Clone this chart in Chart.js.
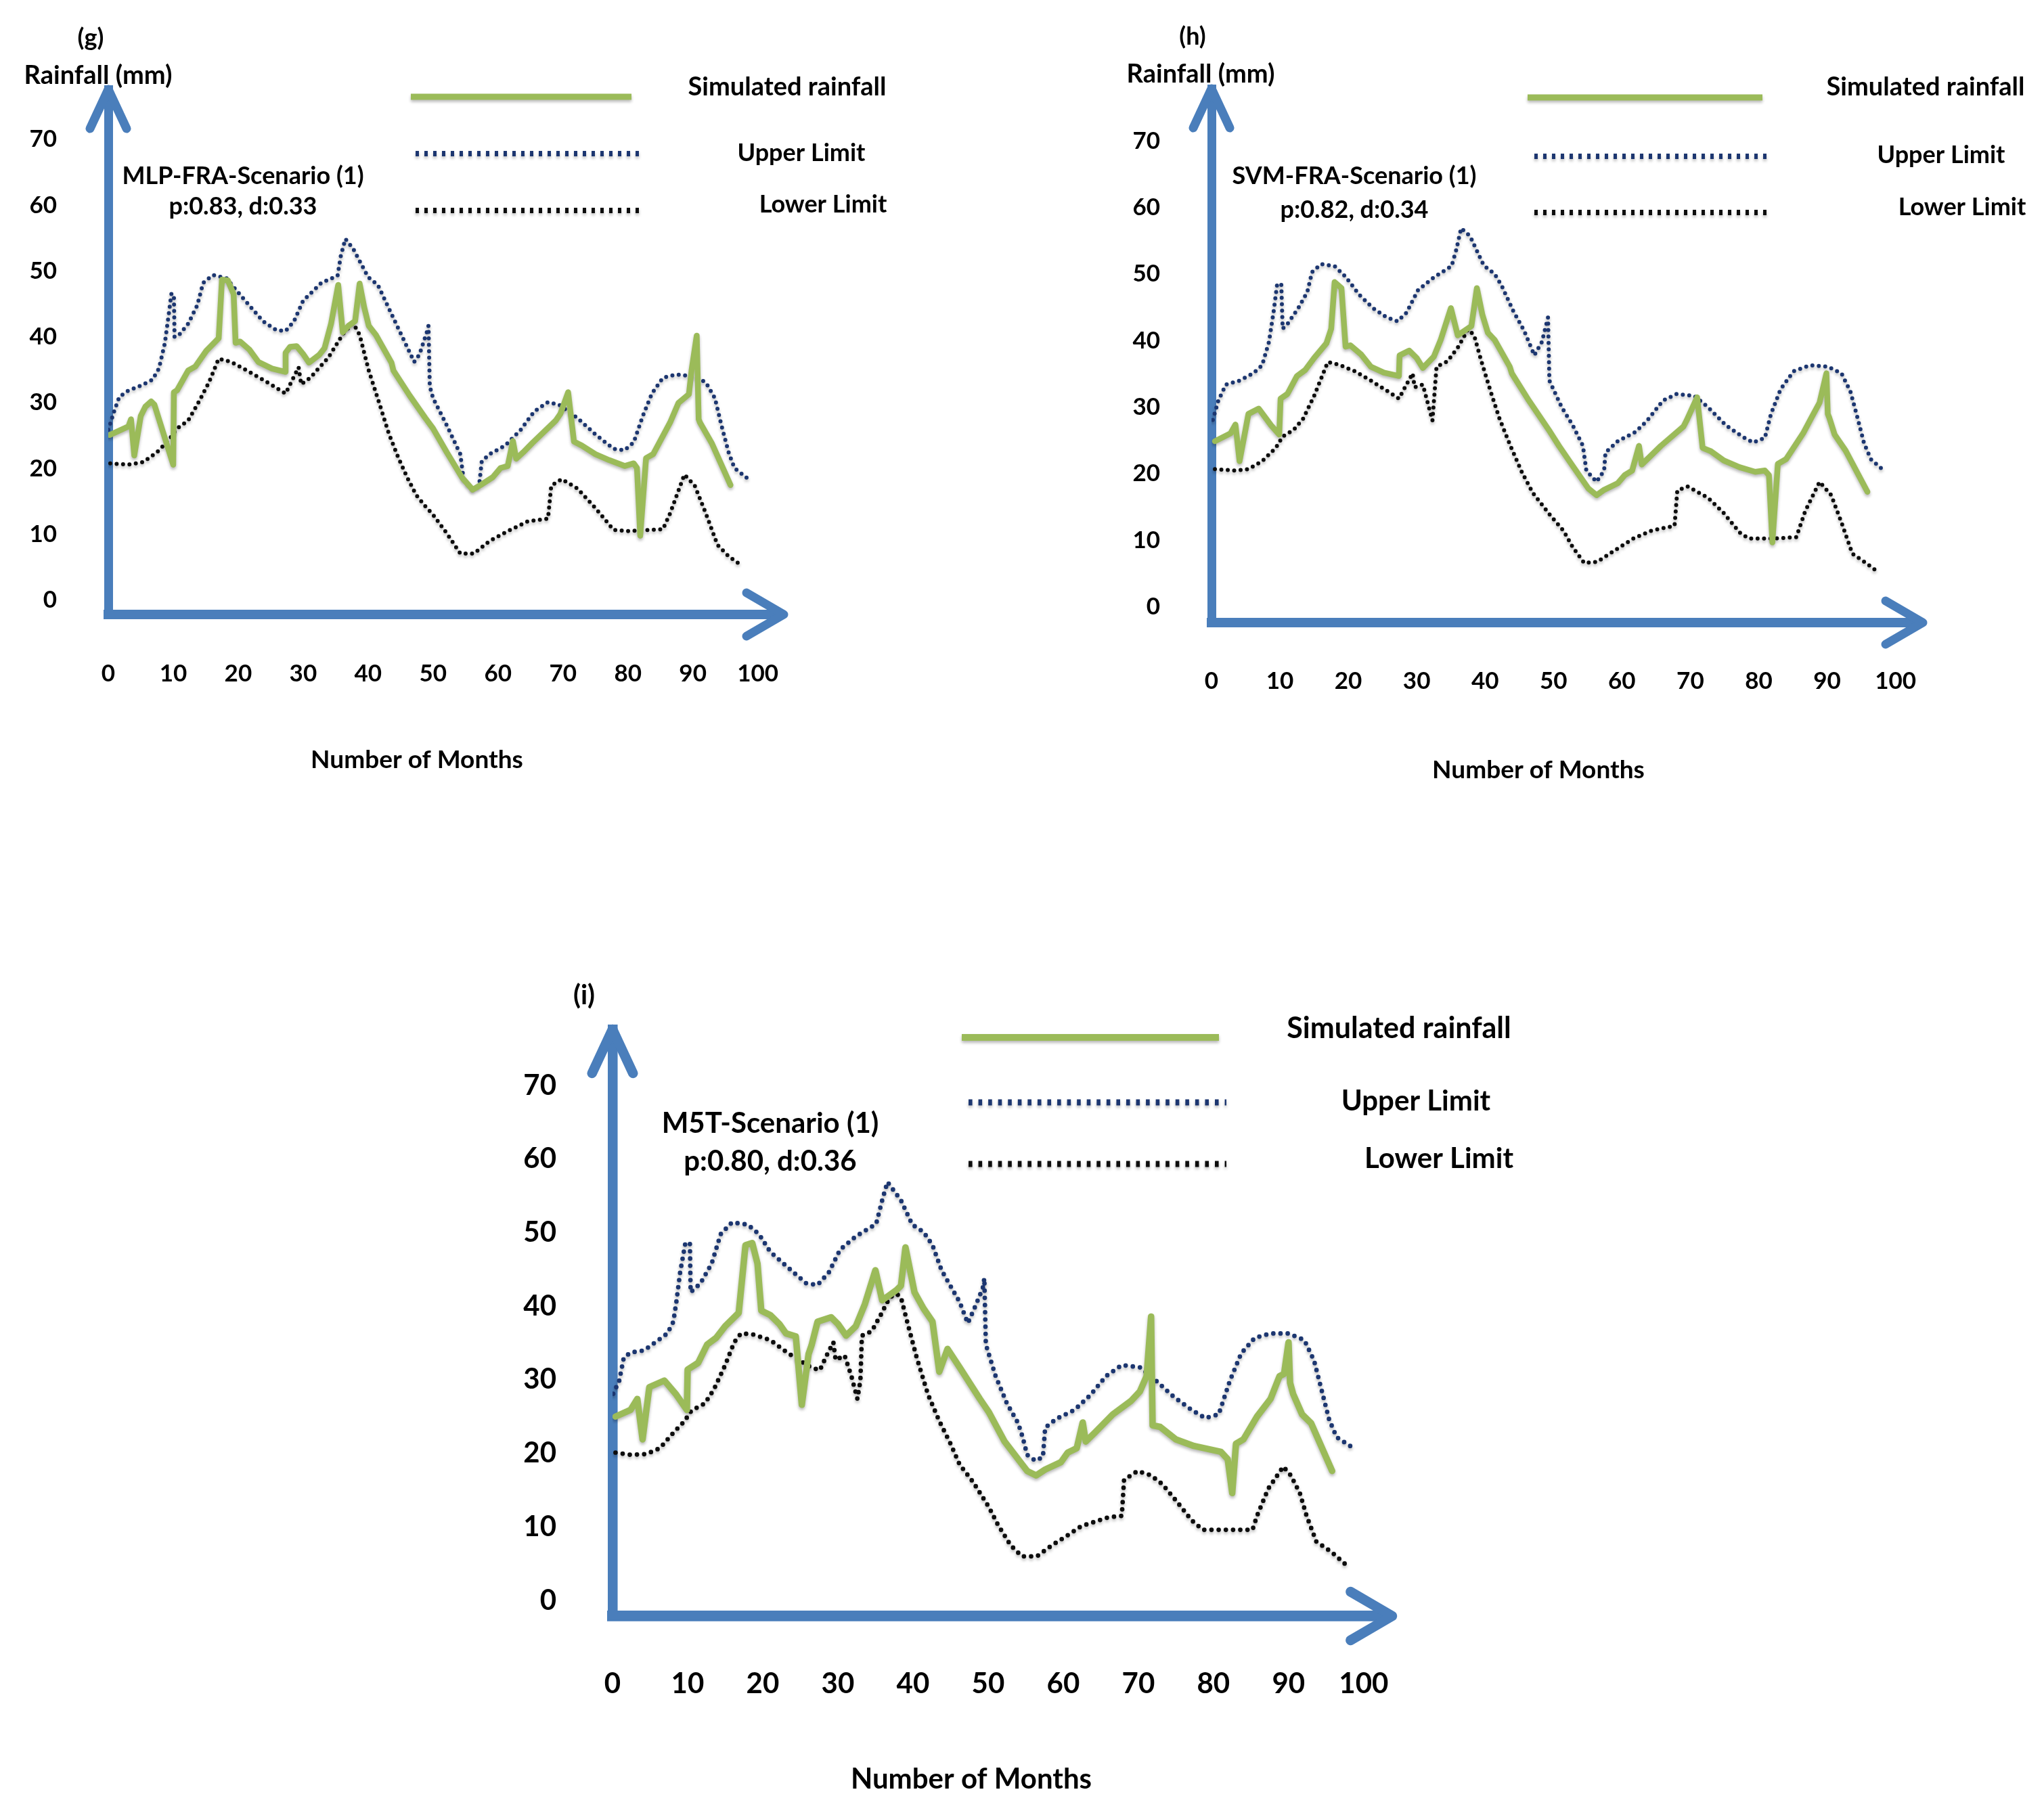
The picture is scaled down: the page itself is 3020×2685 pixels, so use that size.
<!DOCTYPE html>
<html>
<head>
<meta charset="utf-8">
<title>Simulated rainfall with upper and lower limits</title>
<script src="https://cdn.jsdelivr.net/npm/chart.js@4.4.1/dist/chart.umd.min.js"></script>
<style>
  html, body { margin: 0; padding: 0; background: #fff; }
  #wrap { position: relative; width: 3020px; height: 2685px; }
  #wrap canvas { position: absolute; left: 0; top: 0; }
</style>
</head>
<body>
<div id="wrap">
  <canvas id="chartG" width="3020" height="2685"></canvas>
  <canvas id="chartH" width="3020" height="2685"></canvas>
  <canvas id="chartI" width="3020" height="2685"></canvas>
</div>
<script>
// tick labels and names
const xTicks = [0, 10, 20, 30, 40, 50, 60, 70, 80, 90, 100];
const yTicks = [0, 10, 20, 30, 40, 50, 60, 70];
const seriesNames = ['Simulated rainfall', 'Upper Limit', 'Lower Limit'];
const yTitle = 'Rainfall (mm)';
const xTitle = 'Number of Months';

// (g) MLP-FRA  [month, rainfall mm]
const gSimulated = [[0.2,25.1],[3.1,26.4],[3.5,27.5],[4.0,22.0],[5.0,28.0],[5.7,29.4],[6.6,30.2],[7.1,29.7],[10.0,20.6],[10.1,31.6],[10.6,31.9],[12.3,34.9],[13.4,35.5],[15.1,37.9],[17.0,39.8],[17.5,48.7],[18.4,48.6],[19.3,46.5],[19.6,39.1],[20.3,39.3],[21.7,38.1],[23.1,36.2],[25.2,35.2],[27.2,34.7],[27.3,37.6],[28.0,38.5],[29.0,38.6],[30.0,37.4],[30.9,36.1],[32.5,37.3],[33.3,38.3],[34.3,42.0],[35.4,47.9],[36.1,40.7],[37.0,41.7],[38.0,42.4],[38.7,48.1],[39.4,44.5],[40.1,41.7],[41.2,40.3],[43.6,36.1],[43.9,34.9],[46.4,31.1],[48.8,27.7],[50.0,26.1],[52.1,22.5],[54.5,18.6],[56.1,16.8],[57.3,17.5],[59.2,18.7],[60.4,20.1],[61.5,20.4],[62.3,24.2],[62.8,21.5],[63.9,22.5],[65.3,23.9],[68.9,27.3],[69.6,28.3],[70.8,31.6],[71.7,24.1],[72.9,23.5],[75.0,22.2],[77.1,21.3],[79.5,20.4],[80.9,20.8],[81.4,20.1],[81.9,9.8],[82.8,21.6],[83.9,22.2],[86.5,27.0],[87.8,30.0],[89.4,31.3],[89.8,34.9],[90.6,40.2],[90.9,27.5],[91.1,27.0],[92.9,23.9],[95.8,17.5]];
const gUpper = [[0.0,25.9],[0.9,28.7],[1.7,30.9],[3.0,31.8],[5.0,32.6],[6.8,33.5],[7.8,35.2],[8.7,39.0],[9.4,44.1],[9.7,46.5],[10.1,46.5],[10.2,40.0],[10.9,40.3],[12.3,42.0],[13.7,44.8],[14.6,48.2],[16.1,49.4],[18.2,48.9],[19.6,47.2],[21.7,44.8],[23.8,42.4],[25.9,41.0],[27.3,40.9],[28.6,42.4],[30.0,45.5],[32.8,48.2],[35.3,49.3],[35.8,52.3],[36.5,54.9],[37.7,53.4],[40.0,49.1],[41.5,47.9],[42.5,45.8],[44.6,41.4],[47.1,36.2],[47.9,37.3],[49.1,40.9],[49.3,41.7],[49.5,32.5],[50.0,30.7],[52.1,26.6],[54.2,22.2],[54.7,18.4],[56.1,16.8],[57.1,17.5],[57.5,21.1],[58.7,22.2],[61.1,23.5],[63.5,25.9],[65.6,28.7],[67.7,30.1],[69.4,29.7],[72.2,27.7],[75.0,25.2],[77.8,23.0],[79.5,22.8],[80.9,24.0],[82.3,28.0],[83.7,31.4],[85.4,33.8],[87.5,34.3],[90.3,34.0],[92.0,33.1],[93.4,30.7],[94.4,26.6],[95.5,22.5],[96.4,20.1],[98.3,18.6]];
const gLower = [[0.3,20.8],[3.0,20.6],[5.4,21.0],[7.5,22.5],[9.2,24.2],[10.6,26.1],[12.3,27.3],[13.7,29.7],[15.5,33.1],[17.0,36.7],[18.9,36.2],[21.7,34.7],[24.5,33.1],[27.3,31.4],[29.3,35.4],[29.7,32.8],[31.1,33.8],[33.9,36.9],[36.3,40.7],[37.7,42.1],[38.7,40.3],[40.1,34.9],[41.8,29.7],[43.2,25.3],[44.6,21.8],[46.0,18.7],[47.4,16.0],[48.8,14.3],[50.0,13.0],[52.1,10.2],[54.2,7.1],[56.3,7.1],[58.7,9.0],[61.5,10.5],[64.6,12.0],[67.7,12.4],[68.2,17.4],[69.8,18.4],[72.2,17.0],[75.0,14.0],[77.8,10.7],[79.9,10.5],[85.4,10.8],[86.5,13.2],[88.7,19.1],[90.3,17.4],[92.0,13.2],[93.8,8.4],[95.5,6.7],[97.2,5.5]];

// (h) SVM-FRA
const hSimulated = [[0.5,24.9],[2.8,26.1],[3.5,27.4],[4.1,21.9],[5.4,29.0],[6.9,29.8],[8.7,27.3],[9.9,25.9],[10.1,31.3],[11.1,32.0],[12.5,34.7],[13.7,35.6],[15.0,37.4],[16.8,39.6],[17.5,41.8],[18.0,48.8],[19.0,47.9],[19.6,39.1],[20.3,39.3],[21.9,37.9],[23.3,36.1],[25.2,35.2],[27.4,34.7],[27.5,37.8],[28.9,38.5],[30.0,37.4],[30.9,35.9],[32.5,37.6],[33.5,40.1],[35.0,44.9],[36.0,40.8],[38.0,42.2],[38.8,47.9],[39.6,43.9],[40.4,41.2],[41.4,40.1],[43.6,36.1],[43.9,35.1],[46.4,31.0],[49.5,26.3],[50.8,24.2],[52.8,21.2],[55.1,17.8],[56.3,16.8],[57.4,17.6],[59.4,18.6],[60.4,19.8],[61.5,20.5],[62.5,24.2],[62.9,21.4],[64.0,22.5],[65.7,24.2],[69.0,27.1],[69.5,28.1],[71.0,31.5],[71.8,23.9],[73.0,23.4],[74.9,22.0],[77.2,21.0],[79.5,20.3],[80.9,20.5],[81.5,19.8],[82.0,9.7],[82.8,21.5],[84.0,22.2],[86.5,26.1],[87.8,28.6],[88.9,30.7],[89.9,35.1],[90.1,29.0],[90.3,28.5],[91.1,25.9],[92.7,23.5],[95.9,17.3]];
const hUpper = [[0.2,28.1],[1.0,31.0],[2.1,33.4],[4.1,34.0],[6.1,35.1],[7.4,36.3],[8.4,39.8],[9.1,44.5],[9.6,48.5],[10.2,48.5],[10.4,41.8],[11.1,42.5],[12.7,44.9],[14.0,47.3],[14.7,50.3],[16.0,51.5],[18.0,51.2],[19.6,49.6],[21.6,46.9],[23.6,44.9],[25.6,43.5],[27.2,42.9],[28.5,44.2],[30.2,47.6],[32.5,49.5],[35.1,51.2],[35.8,53.7],[36.5,56.9],[37.8,55.7],[39.8,51.3],[41.4,50.0],[42.4,48.3],[44.1,44.5],[45.7,41.5],[47.2,37.8],[48.3,39.8],[49.2,43.5],[49.4,34.0],[51.2,30.0],[52.8,27.3],[54.3,24.2],[54.8,20.5],[56.3,18.8],[57.4,20.5],[57.6,23.2],[59.4,24.9],[62.0,26.3],[63.7,28.0],[66.0,31.0],[68.0,32.0],[70.6,31.7],[72.6,30.0],[75.2,27.3],[77.6,25.6],[79.2,24.7],[80.9,25.4],[81.8,29.0],[83.2,32.7],[85.1,35.4],[87.5,36.3],[90.1,36.1],[92.1,35.1],[93.4,32.4],[94.4,28.6],[95.4,24.6],[96.4,22.2],[98.3,20.5]];
const hLower = [[0.5,20.7],[3.5,20.5],[5.4,20.7],[7.4,21.9],[9.4,23.9],[10.4,25.6],[12.0,26.6],[13.4,28.3],[15.0,31.7],[17.0,36.8],[18.6,36.4],[21.0,35.4],[23.3,34.0],[25.6,32.5],[27.4,31.3],[28.5,33.4],[29.4,35.1],[29.7,33.0],[30.9,33.4],[32.3,28.0],[32.9,36.1],[34.5,36.9],[36.1,39.1],[37.5,41.7],[38.4,40.8],[39.4,37.1],[40.8,32.4],[42.1,28.3],[43.7,24.2],[45.4,20.2],[47.0,17.1],[49.5,13.8],[51.5,11.4],[52.8,9.0],[54.5,6.6],[56.4,6.8],[59.1,8.6],[61.7,10.3],[64.4,11.5],[67.7,12.2],[68.1,17.5],[69.6,18.1],[72.6,16.4],[74.9,14.1],[77.2,11.2],[78.5,10.3],[82.5,10.3],[85.5,10.5],[86.8,14.4],[88.9,18.8],[90.6,16.8],[92.1,12.7],[93.7,8.0],[95.7,6.6],[97.0,5.6]];

// (i) M5T
const iSimulated = [[0.4,25.0],[2.4,25.9],[3.3,27.4],[4.0,21.9],[4.9,29.0],[6.9,29.9],[8.4,28.1],[9.9,25.9],[10.0,31.4],[11.4,32.3],[12.6,34.8],[13.8,35.7],[15.0,37.3],[16.8,39.1],[17.7,48.3],[18.6,48.6],[19.3,45.8],[19.8,39.4],[21.0,38.8],[22.2,37.6],[23.1,36.3],[24.4,35.9],[25.2,26.6],[26.1,33.5],[26.5,34.7],[27.3,37.9],[29.1,38.5],[30.0,37.6],[31.1,36.0],[32.4,37.3],[33.6,40.3],[35.0,44.9],[35.9,40.8],[37.8,42.2],[38.4,42.8],[39.0,48.0],[40.2,41.9],[41.4,39.7],[42.6,37.9],[43.5,31.1],[44.6,34.2],[46.2,31.7],[48.9,27.4],[50.1,25.6],[52.2,21.6],[55.2,17.6],[56.4,17.0],[57.6,17.8],[59.7,18.8],[60.6,20.1],[61.8,20.7],[62.6,24.2],[63.0,21.6],[64.2,22.8],[66.6,25.3],[69.0,27.1],[70.2,28.4],[71.1,30.5],[71.7,38.6],[71.9,23.8],[72.9,23.6],[75.0,21.9],[77.4,21.0],[81.0,20.2],[81.9,19.2],[82.5,14.6],[83.0,21.3],[84.0,21.9],[85.8,25.0],[87.6,27.4],[88.8,30.5],[89.4,30.8],[90.0,35.1],[90.2,29.6],[90.6,28.1],[91.8,25.3],[93.0,24.1],[95.8,17.6]];
const iUpper = [[0.1,28.1],[0.9,29.9],[1.5,33.0],[2.4,33.7],[4.2,34.0],[5.7,35.1],[7.3,36.3],[8.1,37.9],[8.5,40.6],[9.0,44.6],[9.7,48.6],[10.3,48.6],[10.4,41.9],[11.7,43.1],[13.2,45.8],[14.4,49.8],[15.9,51.4],[18.0,51.1],[19.5,49.8],[21.0,47.4],[23.1,45.5],[25.8,43.1],[27.3,42.9],[28.8,44.6],[30.3,47.7],[32.4,49.5],[35.1,51.2],[35.9,54.4],[36.6,56.9],[38.4,54.4],[39.9,51.1],[41.4,50.1],[42.6,48.3],[43.8,44.9],[45.3,42.2],[46.2,40.6],[47.3,37.7],[48.3,40.0],[49.3,42.5],[49.5,43.8],[49.7,34.8],[51.0,30.5],[52.5,26.8],[54.0,24.1],[54.6,22.2],[55.2,19.8],[56.3,19.0],[57.3,19.5],[57.6,23.5],[59.1,24.7],[61.5,25.9],[63.6,27.9],[65.7,30.5],[67.8,32.0],[70.2,31.7],[72.0,30.2],[74.7,27.7],[77.1,25.9],[78.9,24.8],[80.7,25.3],[82.2,29.9],[83.7,33.6],[85.5,35.7],[87.6,36.3],[90.0,36.3],[92.1,35.4],[93.4,32.6],[94.4,28.6],[95.4,24.6],[96.4,22.2],[98.5,20.8]];
const iLower = [[0.4,20.1],[2.4,19.8],[4.5,19.9],[6.3,20.7],[8.1,22.8],[9.6,24.4],[10.5,25.8],[12.3,26.8],[13.5,28.7],[15.0,32.0],[16.2,35.1],[17.1,36.3],[18.6,36.2],[21.0,35.4],[23.4,33.6],[26.4,31.7],[27.6,31.3],[28.5,33.3],[29.4,35.1],[29.7,32.7],[30.9,33.3],[31.8,30.5],[32.6,27.4],[33.0,29.9],[33.2,36.0],[34.5,36.6],[35.7,38.8],[36.9,41.2],[37.8,41.7],[38.4,41.2],[39.3,37.6],[40.5,33.0],[42.0,28.0],[43.5,24.4],[45.0,21.3],[46.2,18.5],[48.0,16.1],[50.1,12.7],[51.3,10.3],[53.0,7.5],[54.5,6.0],[56.5,6.0],[58.5,7.5],[60.5,8.8],[62.4,10.1],[64.2,10.7],[66.0,11.3],[67.8,11.5],[68.1,16.4],[69.9,17.6],[71.7,17.0],[73.2,15.8],[75.0,13.6],[77.1,10.9],[78.6,9.6],[85.2,9.6],[85.8,11.5],[87.3,15.2],[89.3,18.2],[90.3,17.0],[91.5,14.6],[92.4,11.5],[93.7,8.0],[95.7,6.6],[97.7,4.8]];

const AXIS_BLUE = '#4a7ebb';
const GREEN = '#9bbb59';
const NAVY = '#1c3670';
const BLACK = '#0d0d0d';
const FONT = 'Lato, "Open Sans", sans-serif';

Chart.defaults.font.family = FONT;
Chart.defaults.font.weight = 'bold';
Chart.defaults.color = '#000';

const toXY = arr => arr.map(p => ({x: p[0], y: p[1]}));

// soft drop shadow under the series, like the office-style original
const shadowPlugin = {
  id: 'lineShadow',
  beforeDatasetDraw(chart) {
    const ctx = chart.ctx;
    ctx.save();
    ctx.shadowColor = 'rgba(0,0,0,0.28)';
    ctx.shadowBlur = 4;
    ctx.shadowOffsetY = 3;
  },
  afterDatasetDraw(chart) {
    chart.ctx.restore();
  }
};

// draws the arrow heads, panel texts and the hand-made legend
const decorPlugin = {
  id: 'decor',
  afterDraw(chart, args, o) {
    const {ctx, chartArea: a} = chart;
    const s = o.scale;
    ctx.save();
    ctx.strokeStyle = AXIS_BLUE;
    ctx.lineWidth = 13 * s;
    ctx.lineCap = 'round';
    ctx.lineJoin = 'round';
    ctx.beginPath();
    ctx.moveTo(a.left - 27 * s, a.top + 58 * s);
    ctx.lineTo(a.left, a.top);
    ctx.lineTo(a.left + 27 * s, a.top + 58 * s);
    ctx.moveTo(a.right - 55 * s, a.bottom - 32 * s);
    ctx.lineTo(a.right, a.bottom);
    ctx.lineTo(a.right - 55 * s, a.bottom + 32 * s);
    ctx.stroke();

    ctx.fillStyle = '#000';
    ctx.textAlign = 'center';
    ctx.textBaseline = 'middle';
    o.texts.forEach(t => {
      ctx.font = 'bold ' + t[3] + 'px ' + FONT;
      ctx.fillText(t[0], t[1], t[2]);
    });

    chart.data.datasets.forEach((ds, i) => {
      const L = o.legend[i];
      ctx.save();
      ctx.shadowColor = 'rgba(0,0,0,0.28)';
      ctx.shadowBlur = 4;
      ctx.shadowOffsetY = 3;
      ctx.beginPath();
      ctx.strokeStyle = ds.borderColor;
      ctx.lineCap = 'butt';
      if (i === 0) {
        ctx.lineWidth = 9 * s;
      } else {
        ctx.setLineDash([5 * s, 8 * s]);
        ctx.lineWidth = 8 * s;
      }
      ctx.moveTo(L.x1, L.y);
      ctx.lineTo(L.x2, L.y);
      ctx.stroke();
      ctx.restore();
      ctx.font = 'bold ' + L.size + 'px ' + FONT;
      ctx.fillText(ds.label, L.tx, L.ty);
    });
    ctx.restore();
  }
};

function makePanel(id, sim, up, low, p) {
  const W = 3020, H = 2685;
  new Chart(document.getElementById(id), {
    type: 'line',
    data: {
      datasets: [
        {label: seriesNames[0], data: toXY(sim), borderColor: GREEN, borderWidth: 8.5 * p.scale,
         borderJoinStyle: 'round', borderCapStyle: 'round', pointRadius: 0, tension: 0},
        {label: seriesNames[1], data: toXY(up), borderColor: NAVY, borderWidth: 6 * p.scale,
         borderDash: [0, 9.5 * p.scale], borderCapStyle: 'round', pointRadius: 0, tension: 0},
        {label: seriesNames[2], data: toXY(low), borderColor: BLACK, borderWidth: 6 * p.scale,
         borderDash: [0, 9.5 * p.scale], borderCapStyle: 'round', pointRadius: 0, tension: 0}
      ]
    },
    options: {
      responsive: false,
      animation: false,
      devicePixelRatio: 1,
      events: [],
      layout: {
        padding: {left: p.left - 160, top: p.top, right: W - p.right, bottom: H - p.bottom - 150}
      },
      scales: {
        x: {
          type: 'linear', min: 0, max: p.xMax,
          grid: {display: false},
          border: {display: true, color: AXIS_BLUE, width: 14 * p.scale},
          afterBuildTicks: sc => { sc.ticks = xTicks.map(v => ({value: v})); },
          afterFit: sc => { sc.height = 150; },
          ticks: {padding: p.xPad, maxRotation: 0, autoSkip: false, font: {size: p.tickSize}}
        },
        y: {
          type: 'linear', min: p.yMin, max: p.yMax,
          grid: {display: false},
          border: {display: true, color: AXIS_BLUE, width: 13 * p.scale},
          afterBuildTicks: sc => { sc.ticks = yTicks.map(v => ({value: v})); },
          afterFit: sc => { sc.width = 160; },
          ticks: {padding: p.yPad, font: {size: p.tickSize}}
        }
      },
      plugins: {
        legend: {display: false},
        tooltip: {enabled: false},
        decor: {scale: p.scale, texts: p.texts, legend: p.legend}
      }
    },
    plugins: [shadowPlugin, decorPlugin]
  });
}

makePanel('chartG', gSimulated, gUpper, gLower, {
  left: 160, right: 1158, top: 132, bottom: 908, xMax: 104, yMin: -2.15, yMax: 77.6,
  xPad: 59, yPad: 68, tickSize: 35, scale: 1,
  texts: [['(g)', 134, 56, 36], [yTitle, 145, 112, 38], ['MLP-FRA-Scenario (1)', 359, 260, 36],
          ['p:0.83, d:0.33', 359, 305, 36], [xTitle, 616, 1123, 37]],
  legend: [{x1: 607, x2: 933, y: 143, tx: 1163, ty: 129, size: 38},
           {x1: 614, x2: 945, y: 227, tx: 1184, ty: 226, size: 36},
           {x1: 614, x2: 945, y: 311, tx: 1216, ty: 302, size: 36}]
});

makePanel('chartH', hSimulated, hUpper, hLower, {
  left: 1790, right: 2841, top: 131, bottom: 920, xMax: 104, yMin: -2.34, yMax: 77.85,
  xPad: 58, yPad: 68, tickSize: 35, scale: 1,
  texts: [['(h)', 1762, 54, 36], [yTitle, 1774, 110, 38], ['SVM-FRA-Scenario (1)', 2001, 260, 36],
          ['p:0.82, d:0.34', 2001, 310, 36], [xTitle, 2273, 1138, 37]],
  legend: [{x1: 2257, x2: 2604, y: 144, tx: 2845, ty: 129, size: 38},
           {x1: 2267, x2: 2615, y: 231, tx: 2868, ty: 229, size: 36},
           {x1: 2267, x2: 2615, y: 314, tx: 2899, ty: 306, size: 36}]
});

makePanel('chartI', iSimulated, iUpper, iLower, {
  left: 905, right: 2057, top: 1521, bottom: 2388, xMax: 103.8, yMin: -2.12, yMax: 77.65,
  xPad: 67, yPad: 75, tickSize: 42, scale: 1.12,
  texts: [['(i)', 863, 1471, 40], ['M5T-Scenario (1)', 1138, 1660, 42],
          ['p:0.80, d:0.36', 1138, 1716, 42], [xTitle, 1435, 2629, 42]],
  legend: [{x1: 1421, x2: 1801, y: 1533, tx: 2067, ty: 1520, size: 43},
           {x1: 1431, x2: 1812, y: 1629, tx: 2092, ty: 1627, size: 42},
           {x1: 1431, x2: 1812, y: 1720, tx: 2126, ty: 1712, size: 42}]
});
</script>
</body>
</html>
